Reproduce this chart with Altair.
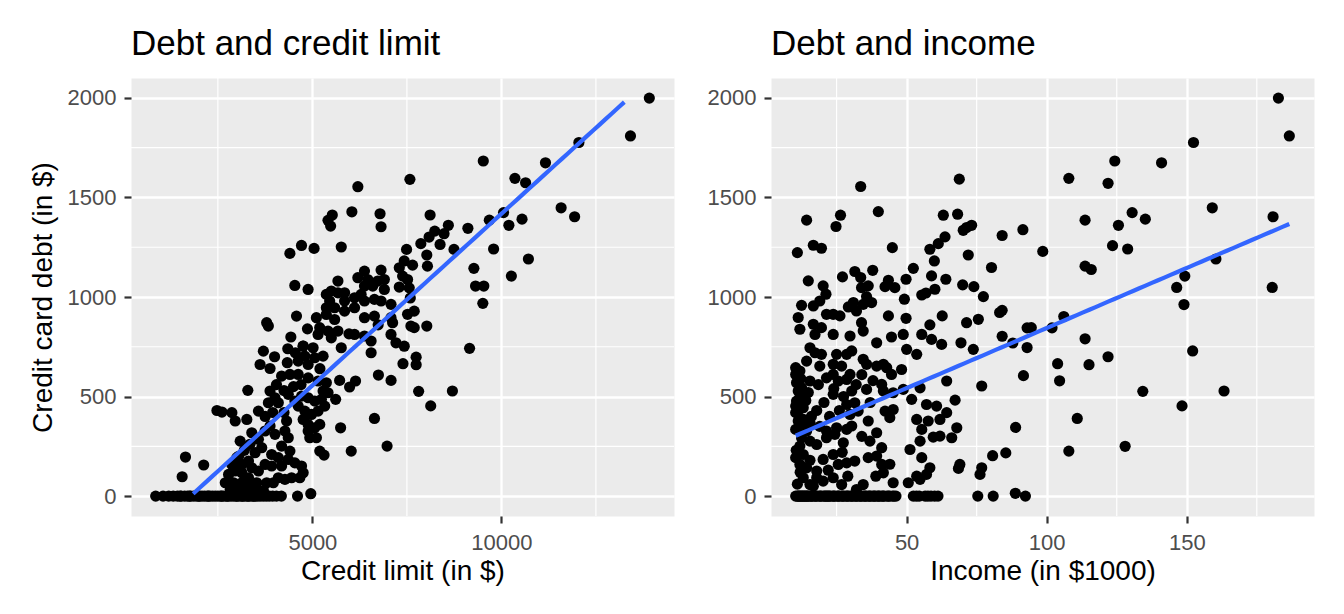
import altair as alt
import pandas as pd

# ---------------- data ----------------
# Left panel: (credit limit, balance)
left_zero_limit = [855, 1050, 1200, 1320, 1430, 1500, 1530, 1620, 1700, 1750, 1780, 1860, 1940,
                   2000, 2010, 2080, 2150, 2220, 2250, 2290, 2360, 2430, 2500, 2570, 2600, 2640,
                   2710, 2750, 2780, 2850, 2920, 2990, 3000, 3060, 3130, 3150, 3200, 3270, 3300,
                   3340, 3410, 3450, 3480, 3550, 3620, 3700, 3780, 3860, 3950, 4050, 4180, 4607]

left_low = [(3704, 728), (3616, 661), (3880, 641), (4336, 670), (4756, 754), (4800, 703), (4625, 678),
            (4888, 661), (5063, 695), (5283, 703), (6554, 720), (6747, 608), (7081, 581), (5721, 581),
            (5984, 548), (6142, 578), (4186, 603), (4406, 611), (4625, 611), (4888, 594), (5151, 578),
            (5370, 569), (5283, 528), (5414, 519), (3292, 531), (3880, 528), (4011, 494), (3836, 469),
            (4099, 469), (4362, 511), (4537, 477), (4713, 502), (4888, 494), (5063, 477), (5239, 486),
            (5616, 486), (4625, 452), (4800, 427), (4976, 410), (5151, 427), (5327, 452), (2476, 430),
            (2608, 422), (2871, 419), (2959, 377), (3266, 385), (3573, 427), (4318, 377), (4756, 385),
            (4888, 360), (5063, 343), (5195, 360), (5747, 343), (6642, 390), (4274, 327), (4362, 293),
            (4888, 327), (4932, 293), (5107, 293), (3090, 276), (3397, 318), (3573, 285), (3748, 327),
            (3880, 352), (4011, 310), (3660, 243), (3485, 218), (3923, 209), (4099, 193), (4186, 251),
            (4406, 226), (4362, 184), (5195, 226), (5309, 206), (6028, 226), (6976, 251), (1643, 196),
            (2125, 156), (1555, 97), (3002, 193), (2871, 159), (3134, 159), (3310, 176), (3397, 142),
            (3573, 126), (3748, 159), (3923, 151), (4186, 151), (4537, 167), (4713, 151), (4756, 117),
            (4669, 92), (4450, 92), (4274, 84), (4099, 92), (2783, 109), (2959, 126), (3134, 117),
            (3310, 92), (2696, 67), (2915, 67), (3134, 67), (3310, 58), (3529, 67), (3792, 67),
            (3967, 67), (2827, 33), (3046, 33), (3266, 33), (3485, 28), (3704, 28), (4958, 12)]

# extra points hidden inside the dense part of the left cloud
left_dense = [(3050, 200), (3200, 230), (3350, 260), (3750, 400), (3950, 420), (4250, 420),
              (4050, 560), (4250, 530), (4500, 550), (4700, 560), (5200, 640), (4550, 720),
              (4350, 740), (4000, 700)]

left_mid = [(7580, 1591), (6203, 1554), (6045, 1428), (6790, 1418), (6817, 1353), (5413, 1385),
            (5527, 1412), (5483, 1356), (8114, 1412), (8597, 1360), (8237, 1331), (8483, 1318),
            (8088, 1301), (7869, 1268), (8378, 1264), (9114, 1345), (7492, 1239), (8027, 1211),
            (8044, 1155), (4405, 1219), (4712, 1259), (5045, 1244), (5764, 1251), (8746, 1239),
            (9272, 1144), (9316, 1055), (9535, 1055), (9509, 968), (7299, 1147), (7430, 1181),
            (7650, 1160), (7387, 1105), (7518, 1088), (7299, 1050), (7562, 1046), (6817, 1135),
            (6904, 1088), (6729, 1080), (6378, 1130), (6203, 1097), (6466, 1088), (6378, 1055),
            (6597, 1055), (6904, 1038), (5676, 1080), (4536, 1058), (4887, 1038), (5369, 1013),
            (5501, 1030), (5676, 1021), (5852, 1021), (5457, 980), (5852, 980), (6115, 996),
            (6378, 980), (6641, 988), (5369, 946), (5589, 946), (5369, 912), (5852, 929), (5589, 887),
            (4580, 904), (3791, 871), (3835, 854), (4431, 799), (4870, 840), (5106, 896), (5194, 846),
            (5413, 829), (5150, 812), (5501, 795), (5676, 829), (6378, 896), (6641, 904), (7080, 896),
            (7123, 871), (7518, 913), (7694, 929), (7606, 854), (7694, 846), (8027, 854), (7080, 812),
            (7211, 770), (7430, 753), (6115, 812), (6378, 804), (6553, 779), (4756, 753), (5019, 745),
            (5764, 745), (9158, 742), (6115, 946), (6290, 1013), (6817, 980), (7080, 963), (6740, 860),
            (5968, 815), (7590, 995)]

left_high = [(13913, 1999), (13414, 1809), (12050, 1776), (9521, 1683), (11166, 1674), (10358, 1596),
             (10640, 1574), (11580, 1448), (11937, 1403), (10057, 1424), (10546, 1391), (9681, 1386),
             (10198, 1360), (9794, 1241), (10715, 1191), (10264, 1105), (8704, 528), (8130, 453),
             (7811, 526), (7745, 698), (7745, 660), (7397, 665)]

# Right panel: (income, balance)
right_zero_income = [10.4, 11.0, 11.3, 11.6, 12.0, 12.3, 12.7, 13.0, 13.4, 13.7, 14.1, 14.4, 14.8,
                     15.1, 15.8, 16.0, 16.5, 17.2, 17.6, 18.0, 18.8, 19.2, 19.6, 20.4, 20.8, 21.2,
                     21.6, 22.0, 22.4, 22.8, 23.6, 24.0, 24.4, 25.2, 25.6, 26.0, 26.8, 27.2, 27.6,
                     28.4, 28.8, 29.2, 30.0, 30.4, 30.8, 31.6, 32.0, 32.4, 33.2, 33.6, 34.0, 34.8,
                     35.2, 35.6, 36.4, 36.8, 37.2, 38.0, 38.4, 38.8, 39.6, 40.0, 40.4, 41.2, 41.6,
                     42.0, 43.0, 43.5, 44.0, 45.0, 45.5, 46.2, 52.4, 53.5, 54.5, 56.6, 57.6, 58.7,
                     60.0, 61.2, 75.4, 80.9, 92.4]

right_mid = [(33.6, 1555), (68.8, 1592), (14.3, 1386), (26.4, 1411), (24.8, 1354), (39.9, 1429),
             (63.1, 1411), (68.2, 1416), (70.2, 1335), (73.2, 1360), (71.4, 1349), (11.0, 1223),
             (16.7, 1260), (19.6, 1245), (44.9, 1248), (58.3, 1240), (61.3, 1268), (63.7, 1302),
             (59.9, 1181), (72.0, 1211), (52.4, 1144), (37.9, 1134), (14.9, 1081), (27.1, 1101),
             (31.5, 1128), (33.6, 1098), (20.2, 1056), (21.2, 1014), (33.9, 1047), (36.3, 1056),
             (43.5, 1084), (42.3, 1052), (45.8, 1047), (49.8, 1089), (58.9, 1106), (64.0, 1089),
             (70.0, 1061), (74.0, 1052), (55.4, 1010), (60.1, 1039), (77.4, 1002), (49.2, 989),
             (12.5, 958), (16.7, 955), (19.0, 980), (35.7, 1002), (37.5, 972), (34.5, 963),
             (31.0, 972), (29.2, 950), (21.4, 913), (23.8, 913), (26.2, 905), (32.1, 930),
             (11.3, 897), (11.9, 838), (16.7, 863), (19.6, 846), (33.9, 871), (34.5, 829),
             (43.5, 905), (49.8, 893), (62.7, 905), (58.3, 860), (71.4, 871), (75.6, 888),
             (56.9, 1020)]

right_low = [(17.3, 812), (23.8, 812), (29.8, 804), (44.6, 799), (48.8, 812), (55.4, 812), (58.9, 787),
             (62.5, 762), (69.4, 770), (73.8, 737), (39.3, 770), (50.0, 737), (53.6, 712), (15.5, 745),
             (17.3, 720), (19.6, 712), (14.3, 678), (11.9, 628), (10.4, 645), (25.0, 712), (28.6, 712),
             (30.4, 729), (23.8, 662), (26.8, 653), (19.0, 653), (21.4, 594), (23.8, 611), (25.6, 578),
             (28.6, 586), (29.8, 611), (34.5, 687), (35.7, 662), (39.3, 653), (41.7, 662), (42.9, 645),
             (44.6, 611), (48.2, 636), (10.7, 569), (15.5, 578), (11.3, 528), (23.8, 511), (30.4, 528),
             (35.7, 536), (41.1, 561), (41.7, 528), (45.2, 519), (48.8, 536), (51.8, 486), (54.8, 544),
             (64.3, 578), (76.8, 553), (67.3, 482), (10.7, 477), (11.3, 427), (10.4, 419), (17.9, 430),
             (13.1, 385), (15.5, 368), (28.6, 460), (31.5, 469), (32.7, 427), (29.8, 410), (42.3, 427),
             (45.2, 435), (44.0, 394), (36.3, 377), (57.1, 460), (60.7, 452), (64.3, 419), (53.6, 385),
             (57.7, 377), (61.9, 385), (55.4, 335), (67.9, 343), (59.5, 296), (61.9, 301), (66.1, 293),
             (10.4, 335), (12.5, 293), (15.5, 276), (17.9, 259), (21.4, 327), (25.0, 343), (28.6, 335),
             (30.4, 352), (21.4, 293), (27.4, 268), (24.4, 310), (36.9, 276), (39.3, 318), (41.1, 243),
             (51.2, 234), (54.8, 276), (10.4, 193), (13.1, 209), (14.3, 142), (17.9, 126), (20.2, 184),
             (23.8, 209), (25.6, 159), (28.6, 167), (31.5, 176), (36.3, 193), (39.3, 201), (41.1, 159),
             (41.7, 117), (55.4, 193), (58.3, 142), (57.1, 109), (69.0, 159), (68.5, 139), (76.8, 142),
             (76.2, 109), (15.5, 58), (17.9, 92), (20.2, 75), (23.8, 92), (26.8, 58), (34.5, 58),
             (32.1, 33), (45.2, 67), (50.6, 67), (53.6, 100), (54.8, 84), (10.4, 611), (11.9, 494),
             (10.4, 452), (13.1, 444), (11.3, 377), (14.3, 327), (11.9, 251), (11.9, 159), (13.1, 92),
             (16.7, 50), (12.5, 545), (14.9, 520), (10.6, 230), (12.0, 120)]

# extra points hidden inside the dense part of the right cloud
right_dense = [(12.2, 590), (14.0, 480), (16.0, 400), (12.6, 340), (15.5, 180), (11.0, 60),
               (18.5, 560), (20.5, 470), (22.5, 400), (19.0, 350), (26.0, 430), (24.0, 540),
               (27.5, 500), (32.0, 560), (34.0, 610), (38.0, 580), (37.0, 470), (34.0, 300),
               (27.0, 220), (22.0, 130), (29.0, 100), (39.0, 100), (44.0, 160)]

right_high = [(182.7, 1999), (186.6, 1809), (152.4, 1776), (124.3, 1683), (141.0, 1674), (107.9, 1596),
              (121.9, 1571), (159.1, 1448), (180.8, 1403), (130.5, 1424), (135.2, 1391), (113.7, 1386),
              (125.6, 1360), (91.5, 1338), (84.1, 1309), (123.5, 1258), (128.9, 1241), (98.6, 1229),
              (160.4, 1191), (80.3, 1148), (113.7, 1155), (115.9, 1138), (149.3, 1105), (146.4, 1048),
              (180.5, 1048), (149.0, 962), (83.2, 922), (84.1, 933), (106.1, 902), (101.9, 845),
              (93.0, 845), (94.5, 846), (84.1, 803), (87.9, 769), (93.0, 746), (113.7, 790),
              (152.1, 729), (121.9, 700), (103.9, 665), (115.1, 660), (91.7, 605), (104.6, 579),
              (134.3, 526), (163.3, 528), (148.3, 453), (110.9, 390), (88.9, 345), (107.9, 226),
              (128.0, 250), (85.4, 217), (80.7, 203), (88.8, 14)]

# axis breaks
balance_ticks = [0, 500, 1000, 1500, 2000]
balance_minor = [250, 750, 1250, 1750]
limit_ticks = [5000, 10000]
limit_minor = [2500, 7500, 12500]
income_ticks = [50, 100, 150]
income_minor = [25, 75, 125, 175]
balance_limits = [0, 2000]


def make_df(pairs, zeros):
    xs = [p[0] for p in pairs] + list(zeros)
    ys = [p[1] for p in pairs] + [0] * len(zeros)
    return pd.DataFrame({"x": xs, "y": ys})


left_df = make_df(left_low + left_dense + left_mid + left_high, left_zero_limit)
right_df = make_df(right_low + right_dense + right_mid + right_high, right_zero_income)


def panel(df, xticks, xminor, xtitle, title, ytitle):
    xmin, xmax = df["x"].min(), df["x"].max()
    pad = 0.05 * (xmax - xmin)
    ylo, yhi = balance_limits
    ypad = 0.05 * (yhi - ylo)
    xscale = alt.Scale(domain=[xmin - pad, xmax + pad], nice=False, zero=False)
    yscale = alt.Scale(domain=[ylo - ypad, yhi + ypad], nice=False, zero=False)
    xaxis = alt.Axis(values=xticks, title=xtitle, format="d")
    yaxis = alt.Axis(values=balance_ticks, title=ytitle, format="d")

    def X(f):
        return alt.X(f, type="quantitative", scale=xscale, axis=xaxis)

    def Y(f):
        return alt.Y(f, type="quantitative", scale=yscale, axis=yaxis)

    vminor = alt.Chart(pd.DataFrame({"v": xminor})).mark_rule(
        color="white", strokeWidth=1.2).encode(x=X("v"))
    hminor = alt.Chart(pd.DataFrame({"v": balance_minor})).mark_rule(
        color="white", strokeWidth=1.2).encode(y=Y("v"))
    pts = alt.Chart(df).mark_circle(size=125, color="black", opacity=1).encode(
        x=X("x"), y=Y("y"))
    line = (
        alt.Chart(df)
        .transform_calculate(xy="datum.x*datum.y", xx="datum.x*datum.x")
        .transform_aggregate(mx="mean(x)", my="mean(y)", mxy="mean(xy)", mxx="mean(xx)",
                             x0="min(x)", x1="max(x)")
        .transform_calculate(b="(datum.mxy - datum.mx*datum.my)/(datum.mxx - datum.mx*datum.mx)")
        .transform_calculate(a="datum.my - datum.b*datum.mx", t="sequence(0, 80)")
        .transform_flatten(["t"])
        .transform_calculate(xs="datum.x0 + datum.t*(datum.x1 - datum.x0)/79")
        .transform_calculate(ys="datum.a + datum.b*datum.xs")
        .transform_filter(f"datum.ys >= {ylo} && datum.ys <= {yhi}")
        .mark_line(color="#3366FF", strokeWidth=4.2)
        .encode(x=X("xs"), y=Y("ys"), order="xs:Q")
    )
    return alt.layer(vminor, hminor, pts, line).properties(
        width=543, height=438,
        title=alt.TitleParams(title, anchor="start", frame="group", fontSize=35,
                              fontWeight="normal", color="black", offset=15,
                              font="Liberation Sans"))


left = panel(left_df, limit_ticks, limit_minor, "Credit limit (in $)",
             "Debt and credit limit", "Credit card debt (in $)")
right = panel(right_df, income_ticks, income_minor, "Income (in $1000)",
              "Debt and income", None)

chart = (
    alt.hconcat(left, right, spacing=30)
    .properties(padding={"left": 20, "top": 18, "right": 10, "bottom": 5})
    .configure(font="Liberation Sans")
    .configure_view(fill="#EBEBEB", stroke="transparent")
    .configure_axis(grid=True, gridColor="white", gridWidth=2.3, domain=False,
                    tickColor="#333333", tickSize=7, tickWidth=2.2,
                    labelColor="#4D4D4D", labelFontSize=22,
                    labelFont="Liberation Sans", titleFont="Liberation Sans",
                    titleFontSize=28, titleFontWeight="normal", titleColor="black")
    .configure_axisY(titlePadding=10, labelPadding=8)
    .configure_axisX(titlePadding=4, labelPadding=9)
)

chart.save("out.html", embed_options={"renderer": "svg", "actions": False})
